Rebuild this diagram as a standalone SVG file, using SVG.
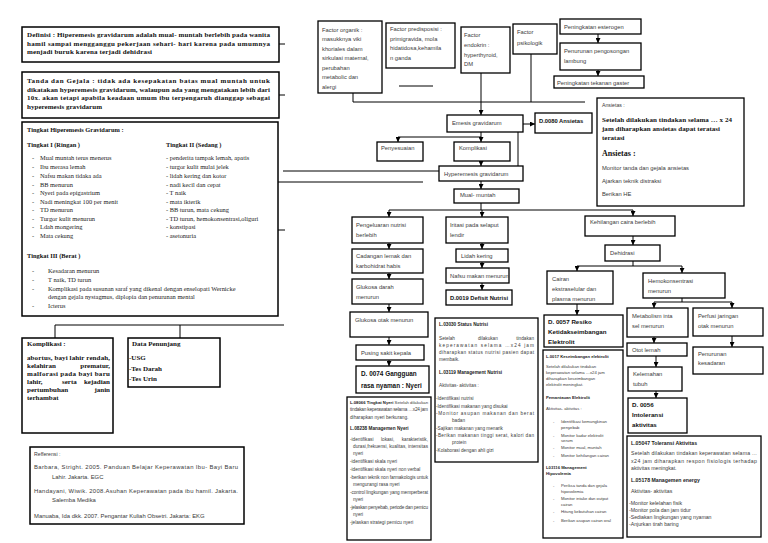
<svg xmlns="http://www.w3.org/2000/svg" width="768" height="543" viewBox="0 0 768 543">
<defs>
<marker id="a" markerWidth="5" markerHeight="5" refX="5" refY="2.5" orient="auto" markerUnits="userSpaceOnUse"><path d="M0,0 L5,2.5 L0,5 z" fill="#000"/></marker>
<style>
.b{fill:#fff;stroke:#000;stroke-width:1.3}
.bl{fill:#fff;stroke:#000;stroke-width:1.5}
.c{fill:none;stroke:#000;stroke-width:1}
.ca{fill:none;stroke:#000;stroke-width:1;marker-end:url(#a)}
.t{font-family:"Liberation Sans",Arial,sans-serif;font-size:5.8px;fill:#3a3a3a}
.tb{font-family:"Liberation Sans",Arial,sans-serif;font-size:6.4px;font-weight:bold;fill:#111}
.x{font-family:"Liberation Sans",Arial,sans-serif;font-size:4.7px;fill:#3a3a3a}
.xb{font-family:"Liberation Sans",Arial,sans-serif;font-size:4.7px;font-weight:bold;fill:#222}
.y{font-family:"Liberation Sans",Arial,sans-serif;font-size:4.2px;fill:#3a3a3a}
.yb{font-family:"Liberation Sans",Arial,sans-serif;font-size:4.2px;font-weight:bold;fill:#222}
.z{font-family:"Liberation Sans",Arial,sans-serif;font-size:5.2px;fill:#3a3a3a}
.zb{font-family:"Liberation Sans",Arial,sans-serif;font-size:5.2px;font-weight:bold;fill:#222}
.o{font-family:"Liberation Serif","Times New Roman",serif;font-size:7px;font-weight:bold;fill:#111}
.s{font-family:"Liberation Serif","Times New Roman",serif;font-size:6.4px;fill:#222}
.sb{font-family:"Liberation Serif","Times New Roman",serif;font-size:6.4px;font-weight:bold;fill:#111}
.r{font-family:"Liberation Sans",Arial,sans-serif;font-size:5.9px;fill:#3a3a3a}
</style>
</defs>

<g id="connectors">
<line class="c" x1="279" y1="44" x2="285" y2="44"/>
<line class="c" x1="279" y1="95" x2="285" y2="95"/>
<line class="c" x1="283" y1="171" x2="439" y2="171"/>
<line class="c" x1="140" y1="182" x2="423" y2="182"/>
<line class="c" x1="278" y1="230" x2="285" y2="230"/>
<polyline class="c" points="55,338 55,325 284,325"/>
<line class="c" x1="180" y1="325" x2="180" y2="338"/>
<line class="c" x1="399" y1="86" x2="433" y2="86"/>
<polyline class="c" points="353,93 353,102 585,102"/>
<line class="c" x1="531" y1="54" x2="531" y2="102"/>
<line class="ca" x1="481" y1="73" x2="481" y2="115"/>
<line class="ca" x1="598" y1="34" x2="598" y2="43"/>
<line class="ca" x1="598" y1="70" x2="598" y2="76"/>
<polyline class="ca" points="518,166 518,124 535,124"/>
<polyline class="c" points="481,132 481,137 398,137"/>
<line class="ca" x1="398" y1="137" x2="398" y2="142"/>
<line class="ca" x1="481" y1="137" x2="481" y2="142"/>
<line class="ca" x1="481" y1="161" x2="481" y2="166"/>
<line class="ca" x1="481" y1="181" x2="481" y2="189"/>
<polyline class="c" points="481,203 481,210"/>
<line class="c" x1="389" y1="210" x2="633" y2="210"/>
<line class="ca" x1="389" y1="210" x2="389" y2="217"/>
<line class="ca" x1="482" y1="210" x2="482" y2="217"/>
<line class="ca" x1="633" y1="210" x2="633" y2="216"/>
<line class="ca" x1="389" y1="243" x2="389" y2="249"/>
<line class="ca" x1="389" y1="273" x2="389" y2="279"/>
<line class="ca" x1="389" y1="304" x2="389" y2="312"/>
<line class="ca" x1="389" y1="337" x2="389" y2="345"/>
<line class="ca" x1="389" y1="360" x2="389" y2="366"/>
<line class="ca" x1="482" y1="243" x2="482" y2="249"/>
<line class="ca" x1="482" y1="262" x2="482" y2="268"/>
<line class="ca" x1="482" y1="283" x2="482" y2="290"/>
<line class="ca" x1="633" y1="236" x2="633" y2="245"/>
<polyline class="c" points="633,261 633,266"/>
<line class="c" x1="577" y1="266" x2="682" y2="266"/>
<line class="ca" x1="577" y1="266" x2="577" y2="271"/>
<line class="ca" x1="682" y1="266" x2="682" y2="273"/>
<line class="ca" x1="577" y1="304" x2="577" y2="315"/>
<polyline class="c" points="682,298 682,302"/>
<line class="c" x1="654" y1="302" x2="732" y2="302"/>
<line class="ca" x1="654" y1="302" x2="654" y2="308"/>
<line class="ca" x1="732" y1="302" x2="732" y2="308"/>
<line class="ca" x1="654" y1="337" x2="654" y2="343"/>
<line class="ca" x1="656" y1="356" x2="656" y2="367"/>
<line class="ca" x1="656" y1="391" x2="656" y2="398"/>
<line class="ca" x1="732" y1="336" x2="732" y2="347"/>
</g>

<g id="definisi">
<rect class="bl" x="22" y="27" width="257" height="35"/>
<text class="o" x="27" y="37" textLength="243" lengthAdjust="spacing">Definisi : Hiperemesis gravidarum adalah mual- muntah berlebih pada wanita</text>
<text class="o" x="27" y="45.5" textLength="243" lengthAdjust="spacing">hamil sampai mengganggu  pekerjaan sehari- hari karena pada umumnya</text>
<text class="o" x="27" y="54" textLength="125" lengthAdjust="spacing">menjadi buruk karena terjadi dehidrasi</text>
</g>

<g id="tanda">
<rect class="bl" x="22" y="72" width="257" height="46"/>
<text class="o" x="27" y="83" textLength="243" lengthAdjust="spacing">Tanda dan Gejala : tidak ada kesepakatan batas mual muntah untuk</text>
<text class="o" x="27" y="91.5" textLength="243" lengthAdjust="spacing">dikatakan hyperemesis gravidarum, walaupun ada yang mengatakan lebih dari</text>
<text class="o" x="27" y="100" textLength="243" lengthAdjust="spacing">10x. akan tetapi apabila keadaan umum ibu terpengaruh dianggap sebagai</text>
<text class="o" x="27" y="108.5" textLength="75" lengthAdjust="spacing">hyperemesis gravidarum</text>
</g>

<g id="tingkat">
<rect class="bl" x="22" y="122" width="256" height="194"/>
<text class="sb" x="27" y="132">Tingkat Hiperemesis Gravidarum :</text>
<text class="sb" x="27" y="147">Tingkat I (Ringan )</text>
<text class="sb" x="166" y="147">Tingkat II (Sedang )</text>
<g class="s">
<text x="32" y="160">-</text><text x="40" y="160">Mual muntah terus menerus</text>
<text x="32" y="169">-</text><text x="40" y="169">Ibu merasa lemah</text>
<text x="32" y="178">-</text><text x="40" y="178">Nafsu makan tidaka ada</text>
<text x="32" y="186.5">-</text><text x="40" y="186.5">BB menurun</text>
<text x="32" y="195">-</text><text x="40" y="195">Nyeri pada epigastrium</text>
<text x="32" y="203.5">-</text><text x="40" y="203.5">Nadi meningkat 100 per menit</text>
<text x="32" y="212">-</text><text x="40" y="212">TD menurun</text>
<text x="32" y="220.5">-</text><text x="40" y="220.5">Turgor kulit menurun</text>
<text x="32" y="229">-</text><text x="40" y="229">Ldah mongering</text>
<text x="32" y="237.5">-</text><text x="40" y="237.5">Mata cekung</text>
<text x="166" y="160">- penderita tampak lemah, apatis</text>
<text x="166" y="169">- turgor kulit mulai jelek</text>
<text x="166" y="178">- lidah kering dan kotor</text>
<text x="166" y="186.5">- nadi kecil dan cepat</text>
<text x="166" y="195">- T naik</text>
<text x="166" y="203.5">- mata ikterik</text>
<text x="166" y="212">- BB turun, mata cekung</text>
<text x="166" y="220.5">- TD turun, hemokonsentrasi,oliguri</text>
<text x="166" y="229">- konstipasi</text>
<text x="166" y="237.5">- asetonuria</text>
<text x="32" y="273">-</text><text x="48" y="273">Kesadaran menurun</text>
<text x="32" y="281.5">-</text><text x="48" y="281.5">T naik, TD turun</text>
<text x="32" y="290.5">-</text><text x="48" y="290.5">Komplikasi pada susunan saraf yang dikenal  dengan enselopati Wernicke</text>
<text x="48" y="299">dengan gejala nystagmus, diplopia dan penurunan mental</text>
<text x="32" y="308">-</text><text x="48" y="308">Icterus</text>
</g>
<text class="sb" x="27" y="258">Tingkat III (Berat )</text>
</g>

<g id="komplikasi-kiri">
<rect class="bl" x="22" y="338" width="91" height="95"/>
<text class="o" x="27" y="346">Komplikasi :</text>
<text class="o" x="27" y="360" textLength="83" lengthAdjust="spacing">abortus, bayi lahir rendah,</text>
<text class="o" x="27" y="368">kelahiran</text><text class="o" x="110" y="368" text-anchor="end">prematur,</text>
<text class="o" x="27" y="376" textLength="83" lengthAdjust="spacing">malforasi pada bayi baru</text>
<text class="o" x="27" y="384">lahir,</text><text class="o" x="62" y="384">serta</text><text class="o" x="110" y="384" text-anchor="end">kejadian</text>
<text class="o" x="27" y="392">pertumbuhan</text><text class="o" x="110" y="392" text-anchor="end">janin</text>
<text class="o" x="27" y="400">terhambat</text>
</g>

<g id="data-penunjang">
<rect class="bl" x="128" y="338" width="92" height="49"/>
<text class="o" x="132" y="346">Data Penunjang</text>
<text class="o" x="129" y="360">-USG</text>
<text class="o" x="129" y="371">-Tes Darah</text>
<text class="o" x="129" y="381">-Tes Urin</text>
</g>

<g id="refferensi">
<rect class="bl" x="30" y="447" width="214" height="77"/>
<text class="r" x="34" y="455.5" style="font-size:5.2px">Refferensi :</text>
<text class="r" x="34" y="469" textLength="204" lengthAdjust="spacing">Barbara, Stright. 2005. Panduan Belajar Keperawatan Ibu- Bayi Baru</text>
<text class="r" x="52" y="479">Lahir. Jakarta. EGC</text>
<text class="r" x="34" y="493" textLength="204" lengthAdjust="spacing">Handayani, Wiwik. 2008.Asuhan Keperawatan pada ibu hamil. Jakarta.</text>
<text class="r" x="52" y="502">Salemba Medika</text>
<text class="r" x="34" y="518">Manuaba, Ida dkk. 2007. Pengantar Kuliah Obsetri. Jakarta: EKG</text>
</g>

<g id="factor-organik">
<rect class="b" x="318" y="21" width="64" height="72"/>
<text class="t" x="322" y="31.5">Factor organik :</text>
<text class="t" x="322" y="41">masukknya viki</text>
<text class="t" x="322" y="50.5">khoriales dalam</text>
<text class="t" x="322" y="60">sirkulasi maternal,</text>
<text class="t" x="322" y="69.5">perubahan</text>
<text class="t" x="322" y="79">metabolic dan</text>
<text class="t" x="322" y="88.5">alergi</text>
</g>
<g id="factor-predisposisi">
<rect class="b" x="386" y="23" width="69" height="45"/>
<text class="t" x="390" y="31">Factor predisposisi :</text>
<text class="t" x="390" y="40.5">primigravida, mola</text>
<text class="t" x="390" y="50">hidatidosa,kehamila</text>
<text class="t" x="390" y="59.5">n ganda</text>
</g>
<g id="factor-endokrin">
<rect class="b" x="461" y="27" width="49" height="46"/>
<text class="t" x="464" y="37">Factor</text>
<text class="t" x="464" y="47">endokrin :</text>
<text class="t" x="464" y="56.5">hyperthyroid,</text>
<text class="t" x="464" y="66">DM</text>
</g>
<g id="factor-psikologik">
<rect class="b" x="513" y="24" width="44" height="30"/>
<text class="t" x="517" y="34">Factor</text>
<text class="t" x="517" y="45">psikologik</text>
</g>
<g id="esterogen">
<rect class="b" x="560" y="19" width="81" height="15"/>
<text class="t" x="564" y="28.5">Peningkatan esterogen</text>
</g>
<g id="pengosongan">
<rect class="b" x="560" y="43" width="81" height="27"/>
<text class="t" x="564" y="53">Penurunan pengosongan</text>
<text class="t" x="564" y="63">lambung</text>
</g>
<g id="gaster">
<rect class="b" x="554" y="76" width="90" height="12"/>
<text class="t" x="557" y="84.5">Peningkatan tekanan gaster</text>
</g>

<g id="emesis">
<rect class="b" x="447" y="115" width="76" height="17"/>
<text class="t" x="452" y="124.5">Emesis gravidarum</text>
</g>
<g id="d0080">
<rect class="b" x="535" y="113" width="57" height="20"/>
<text class="tb" x="539" y="122.5" style="font-size:5.8px">D.0080 Ansietas</text>
</g>
<g id="ansietas">
<rect class="b" x="597" y="98" width="147" height="108"/>
<text class="z" x="602" y="107">Ansietas :</text>
<text class="o" x="602" y="121.5" textLength="130" lengthAdjust="spacing">Setelah dilakukan tindakan selama … x 24</text>
<text class="o" x="602" y="130.5" textLength="118" lengthAdjust="spacing">jam diharapkan ansietas dapat teratasi</text>
<text class="o" x="602" y="139.5">teratasi</text>
<text class="o" x="602" y="156" style="font-size:8px">Ansietas :</text>
<text class="t" x="602" y="170">Monitor tanda dan gejala ansietas</text>
<text class="t" x="602" y="183">Ajarkan teknik distraksi</text>
<text class="t" x="602" y="196">Berikan HE</text>
</g>
<g id="penyesuaian">
<rect class="b" x="377" y="142" width="46" height="19"/>
<text class="t" x="381" y="150">Penyesuaian</text>
</g>
<g id="komplikasi">
<rect class="b" x="454" y="142" width="56" height="19"/>
<text class="t" x="459" y="150">Komplikasi</text>
</g>
<g id="hyperemesis">
<rect class="b" x="439" y="166" width="84" height="15"/>
<text class="t" x="444" y="175.5">Hyperemesis gravidarum</text>
</g>
<g id="mual-muntah">
<rect class="b" x="454" y="189" width="65" height="14"/>
<text class="t" x="460" y="197">Mual- muntah</text>
</g>

<g id="pengeluaran">
<rect class="b" x="352" y="217" width="71" height="26"/>
<text class="t" x="356" y="227">Pengeluaran nutrisi</text>
<text class="t" x="356" y="237">berlebih</text>
</g>
<g id="cadangan">
<rect class="b" x="352" y="249" width="71" height="24"/>
<text class="t" x="356" y="258">Cadangan lemak dan</text>
<text class="t" x="356" y="268">karbohidrat habis</text>
</g>
<g id="glukosa-darah">
<rect class="b" x="352" y="279" width="71" height="25"/>
<text class="t" x="356" y="289">Glukosa darah</text>
<text class="t" x="356" y="299">menurun</text>
</g>
<g id="glukosa-otak">
<rect class="b" x="350" y="312" width="78" height="25"/>
<text class="t" x="355" y="321.5">Glukosa otak menurun</text>
</g>
<g id="pusing">
<rect class="b" x="356" y="345" width="68" height="15"/>
<text class="t" x="361" y="354.5">Pusing sakit kepala</text>
</g>
<g id="d0074">
<rect class="b" x="356" y="366" width="73" height="27"/>
<text class="tb" x="361" y="376">D. 0074 Gangguan</text>
<text class="tb" x="361" y="388">rasa nyaman : Nyeri</text>
</g>
<g id="l08066">
<rect class="b" x="347" y="397" width="84" height="143"/>
<text class="x" x="350" y="403.5" textLength="78" lengthAdjust="spacingAndGlyphs" style="font-size:4.3px"><tspan font-weight="bold" fill="#222">L.08066 Tingkat Nyeri</tspan> Setelah dilakukan</text>
<text class="x" x="350" y="411" textLength="78" lengthAdjust="spacing">tindakan keperawatan selama …x24 jam</text>
<text class="x" x="350" y="418.5">diharapkan nyeri berkurang.</text>
<text class="xb" x="350" y="429.5">L.08238 Managemen Nyeri</text>
<text class="x" x="350" y="441">-identifikasi</text><text class="x" x="381" y="441">lokasi,</text><text class="x" x="428" y="441" text-anchor="end">karakteristik,</text>
<text class="x" x="353" y="448" textLength="75" lengthAdjust="spacing">durasi,frekuensi, kualitas, intensitas</text>
<text class="x" x="353" y="455">nyeri</text>
<text class="x" x="350" y="463">-identifikasi skala nyeri</text>
<text class="x" x="350" y="471">-identifikasi skala nyeri non verbal</text>
<text class="x" x="350" y="479" textLength="78" lengthAdjust="spacing">-berikan teknik non farmakologis untuk</text>
<text class="x" x="353" y="486">mengurangi rasa nyeri</text>
<text class="x" x="350" y="494" textLength="78" lengthAdjust="spacing">-control lingkungan yang memperberat</text>
<text class="x" x="353" y="501">nyeri</text>
<text class="x" x="350" y="509" textLength="78" lengthAdjust="spacing">-jelaskan penyebab, periode dan pemicu</text>
<text class="x" x="353" y="516">nyeri</text>
<text class="x" x="350" y="524">-jelaskan strategi pemicu nyeri</text>
</g>

<g id="iritasi">
<rect class="b" x="446" y="217" width="62" height="26"/>
<text class="t" x="450" y="227">Iritasi pada selaput</text>
<text class="t" x="450" y="237">lendir</text>
</g>
<g id="lidah-kering">
<rect class="b" x="456" y="249" width="52" height="13"/>
<text class="t" x="461" y="257.5">Lidah kering</text>
</g>
<g id="nafsu-makan">
<rect class="b" x="446" y="268" width="63" height="15"/>
<text class="t" x="450" y="277.5">Nafsu makan menurun</text>
</g>
<g id="d0019">
<rect class="b" x="446" y="290" width="66" height="15"/>
<text class="tb" x="450" y="299.5" style="font-size:5.8px">D.0019 Defisit Nutrisi</text>
</g>
<g id="l03030">
<rect class="b" x="435" y="318" width="103" height="144"/>
<text class="xb" x="439" y="326">L.03030 Status Nutrisi</text>
<text class="x" x="439" y="340">Setelah</text><text class="x" x="478" y="340">dilakukan</text><text class="x" x="534" y="340" text-anchor="end">tindakan</text>
<text class="x" x="439" y="347" textLength="95" lengthAdjust="spacing">keperawatan    selama    …x24   jam</text>
<text class="x" x="439" y="354" textLength="95" lengthAdjust="spacing">diharapkan status nutrisi pasien dapat</text>
<text class="x" x="439" y="361">membaik.</text>
<text class="xb" x="439" y="374">L.03119 Management Nutrisi</text>
<text class="x" x="439" y="387">Aktivitas- aktivitas :</text>
<text class="x" x="436" y="400">-Identifikasi nutrisi</text>
<text class="x" x="436" y="407.5">-Identifikasi makanan yang disukai</text>
<text class="x" x="436" y="415" textLength="98" lengthAdjust="spacing">-Monitor asupan makanan dan berat</text>
<text class="x" x="452" y="422">badan</text>
<text class="x" x="436" y="429.5">-Sajikan makanan yang menarik</text>
<text class="x" x="436" y="437" textLength="98" lengthAdjust="spacing">-Berikan makanan tinggi serat, kalori dan</text>
<text class="x" x="452" y="444">protein</text>
<text class="x" x="436" y="451.5">-Kolaborasi dengan ahli gizi</text>
</g>

<g id="kehilangan">
<rect class="b" x="585" y="216" width="90" height="20"/>
<text class="t" x="590" y="224">Kehilangan caira berlebih</text>
</g>
<g id="dehidrasi">
<rect class="b" x="605" y="245" width="55" height="16"/>
<text class="t" x="610" y="254.5">Dehidrasi</text>
</g>
<g id="cairan">
<rect class="b" x="547" y="271" width="66" height="33"/>
<text class="t" x="552" y="280.5">Cairan</text>
<text class="t" x="552" y="291">ekstraselular dan</text>
<text class="t" x="552" y="300.5">plasma menurun</text>
</g>
<g id="d0057">
<rect class="b" x="544" y="315" width="79" height="32"/>
<text class="tb" x="548" y="324" style="font-size:6.2px">D. 0057 Resiko</text>
<text class="tb" x="548" y="334" style="font-size:6.2px">Ketidakseimbangan</text>
<text class="tb" x="548" y="344" style="font-size:6.2px">Elektrolit</text>
</g>
<g id="l0017">
<rect class="b" x="543" y="350" width="80" height="188"/>
<text class="yb" x="546" y="357.5">L.0017 Keseimbangan elektrolit</text>
<text class="y" x="546" y="368">Setelah dilakukan tindakan</text>
<text class="y" x="546" y="374">keperawatan selama …x24 jam</text>
<text class="y" x="546" y="380">diharapkan keseimbangan</text>
<text class="y" x="546" y="386">elektrolit meningkat.</text>
<text class="yb" x="546" y="399">Pemantauan Elektrolit</text>
<text class="y" x="546" y="410">Aktivitas- aktivitas :</text>
<text class="y" x="553" y="422.5">-</text><text class="y" x="561" y="422.5">Identifikasi kemungkinan</text>
<text class="y" x="561" y="429">penyebab</text>
<text class="y" x="553" y="436.5">-</text><text class="y" x="561" y="436.5">Monitor kadar elektrolit</text>
<text class="y" x="561" y="442">serum</text>
<text class="y" x="553" y="449">-</text><text class="y" x="561" y="449">Monitor mual, muntah</text>
<text class="y" x="553" y="456.5">-</text><text class="y" x="561" y="456.5">Monitor kehilangan cairan</text>
<text class="yb" x="546" y="469">L03116 Management</text>
<text class="yb" x="546" y="474.5">Hipovolemia</text>
<text class="y" x="553" y="486.5">-</text><text class="y" x="561" y="486.5">Periksa tanda dan gejala</text>
<text class="y" x="561" y="492.5">hipovolemia</text>
<text class="y" x="553" y="500">-</text><text class="y" x="561" y="500">Monitor intake dan output</text>
<text class="y" x="561" y="506">cairan</text>
<text class="y" x="553" y="513">-</text><text class="y" x="561" y="513">Hitung kebutuhan cairan</text>
<text class="y" x="553" y="521.5">-</text><text class="y" x="561" y="521.5">Berikan asupan cairan oral</text>
</g>
<g id="hemokonsentrasi">
<rect class="b" x="643" y="273" width="82" height="25"/>
<text class="t" x="648" y="283">Hemokonsentrasi</text>
<text class="t" x="648" y="292.5">menurun</text>
</g>
<g id="metabolism">
<rect class="b" x="627" y="308" width="61" height="29"/>
<text class="t" x="632" y="317.5">Metabolism inta</text>
<text class="t" x="632" y="327.5">sel menurun</text>
</g>
<g id="perfusi">
<rect class="b" x="693" y="308" width="70" height="28"/>
<text class="t" x="698" y="317.5">Perfusi jaringan</text>
<text class="t" x="698" y="327.5">otak menurun</text>
</g>
<g id="otot-lemah">
<rect class="b" x="627" y="343" width="60" height="13"/>
<text class="t" x="632" y="351.5">Otot lemah</text>
</g>
<g id="kelemahan">
<rect class="b" x="628" y="367" width="54" height="24"/>
<text class="t" x="633" y="376">Kelemahan</text>
<text class="t" x="633" y="386">tubuh</text>
</g>
<g id="d0056">
<rect class="b" x="628" y="398" width="59" height="35"/>
<text class="tb" x="632" y="406.5" style="font-size:6.2px">D. 0056</text>
<text class="tb" x="632" y="417" style="font-size:6.2px">Intoleransi</text>
<text class="tb" x="632" y="427" style="font-size:6.2px">aktivitas</text>
</g>
<g id="penurunan-kesadaran">
<rect class="b" x="693" y="347" width="70" height="27"/>
<text class="t" x="698" y="355.5">Penurunan</text>
<text class="t" x="698" y="365">kesadaran</text>
</g>
<g id="l05047">
<rect class="b" x="627" y="436" width="134" height="101"/>
<text class="zb" x="631" y="444.5">L.05047 Toleransi Aktivitas</text>
<text class="z" x="631" y="455" textLength="126" lengthAdjust="spacing">Setelah dilakukan tindakan keperawatan selama …</text>
<text class="z" x="631" y="462.5" textLength="126" lengthAdjust="spacing">x24 jam diharapkan respon fisiologis terhadap</text>
<text class="z" x="631" y="469.5">aktivitas meningkat.</text>
<text class="zb" x="631" y="482">L.05178 Managemen energy</text>
<text class="z" x="631" y="493">Aktivitas- aktivitas</text>
<text class="z" x="629" y="505">-Monitor kelelahan fisik</text>
<text class="z" x="629" y="512">-Monitor pola dan jam tidur</text>
<text class="z" x="629" y="519">-Sediakan lingkungan yang nyaman</text>
<text class="z" x="629" y="526">-Anjurkan tirah baring</text>
</g>
</svg>
